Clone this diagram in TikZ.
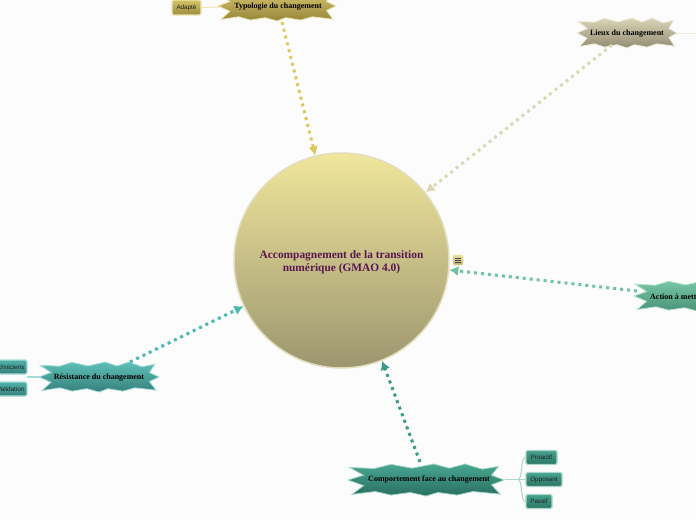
\documentclass[tikz,border=0pt]{standalone}
\usepackage{fontspec}
\setmainfont{Liberation Serif}
\newfontfamily\labelfont{Liberation Sans}
\usetikzlibrary{arrows.meta}
\definecolor{typoC}{HTML}{DCC85F}
\definecolor{typoT}{HTML}{D8C46E}
\definecolor{typoB}{HTML}{948539}
\definecolor{typoL}{HTML}{EFE6B4}
\definecolor{lieuC}{HTML}{DDD8B4}
\definecolor{lieuT}{HTML}{DAD5B8}
\definecolor{lieuB}{HTML}{928D72}
\definecolor{lieuL}{HTML}{EEEBD8}
\definecolor{actC}{HTML}{6FC2A2}
\definecolor{actT}{HTML}{76C6A6}
\definecolor{actB}{HTML}{4B9379}
\definecolor{actL}{HTML}{B5E0CF}
\definecolor{resC}{HTML}{47B9B0}
\definecolor{resT}{HTML}{5CC0B6}
\definecolor{resB}{HTML}{37807C}
\definecolor{resL}{HTML}{A5DDD8}
\definecolor{comC}{HTML}{3A9C88}
\definecolor{comT}{HTML}{47A791}
\definecolor{comB}{HTML}{2A6E60}
\definecolor{comL}{HTML}{A5D6C9}
\definecolor{ink}{HTML}{5A1650}
\definecolor{discT}{HTML}{F0E69C}
\definecolor{discB}{HTML}{9C9670}
\definecolor{discL}{HTML}{E2DEBC}
\definecolor{menuT}{HTML}{E8DDA0}
\definecolor{menuB}{HTML}{B5A86A}
\definecolor{adT}{HTML}{D6C463}
\definecolor{adB}{HTML}{9A8B3F}
\definecolor{tT}{HTML}{4FB0A8}
\definecolor{pT}{HTML}{46A38E}
\definecolor{pB}{HTML}{2D7565}
\tikzset{
  x=1pt,y=-1pt,
  link/.style={line width=3pt,dash pattern=on 3pt off 4pt,-{Latex[length=9pt,width=10pt]}},
  startitle/.style={font=\fontsize{8}{9}\selectfont\bfseries,text=black,inner sep=0pt},
  leaf/.style={font=\labelfont\fontsize{6.3}{7}\selectfont,text=black!88,inner sep=0pt,rounded corners=1.5pt,line width=1.2pt},
  branch/.style={line width=1pt},
}
\newcommand{\burst}[7]{%
  \begin{scope}[shift={(#1,#2)},xscale=#3,yscale=#4]
  \path[draw=#7,line width=.8pt,top color=#5,bottom color=#6]
   (-1,0)--(-.8,-.3)--(-.98,-.78)--(-.66,-.72)--(-.45,-.98)--(-.18,-.74)--(.1,-1)--(.3,-.74)--(.5,-1)--(.72,-.68)--(.93,-.85)--(.84,-.3)--(1,0)--(.84,.3)--(.95,.88)--(.6,.72)--(.4,.94)--(.15,.78)--(0,1)--(-.2,.78)--(-.45,.94)--(-.65,.72)--(-.95,.9)--(-.8,.35)--cycle;
  \end{scope}}
\begin{document}
\begin{tikzpicture}
\useasboundingbox (0,0) rectangle (696,520);
\clip (0,0) rectangle (696,520);
\fill[white!99!black] (0,0) rectangle (696,520);

% centre
\node[circle,minimum size=215pt,inner sep=0pt,draw=discL,line width=1.5pt,top color=discT,bottom color=discB,
  font=\fontsize{11.4}{12.5}\selectfont\bfseries,text=ink,align=center] (centre) at (341.5,260.5)
  {\rule{0pt}{11pt}Accompagnement de la transition\\numérique (GMAO 4.0)};
\node[draw=typoL,line width=.6pt,rounded corners=1pt,minimum width=10pt,minimum height=10pt,inner sep=0pt,top color=menuT,bottom color=menuB] (menu) at (458,260) {};
\draw[black!70,line width=.7pt] (455,258)--(461,258) (455,260.3)--(461,260.3) (455,262.6)--(461,262.6);

% bursts
\burst{277}{6}{59}{15}{typoT}{typoB}{typoL}
\burst{627}{33}{50}{15}{lieuT}{lieuB}{lieuL}
\burst{99}{377}{60}{15}{resT}{resB}{resL}
\burst{426}{480}{78}{16}{comT}{comB}{comL}
\burst{697}{296}{63}{15}{actT}{actB}{actL}

\node[startitle] (typo) at (278,7) {Typologie du changement};
\node[startitle] (lieu) at (627,34) {Lieux du changement};
\node[startitle] (res) at (99,378) {Résistance du changement};
\node[startitle] (com) at (429,480) {Comportement face au changement};
\node[startitle,anchor=west] (act) at (650,297) {Action à mettre};

\coordinate (typoOut) at (282,22);
\coordinate (lieuOut) at (612,45);
\coordinate (actOut) at (637,291);
\coordinate (comOut) at (420,462);
\coordinate (resOut) at (130,362);

% dotted arrows
\draw[link,typoC] (typoOut) -- (centre.104);
\draw[link,lieuC] (lieuOut) -- (centre.39);
\draw[link,actC] (actOut) -- (centre.355);
\draw[link,comC] (comOut) -- (centre.292);
\draw[link,resC] (resOut) -- (centre.205);

% leaves
\node[leaf,draw=typoL,top color=adT,bottom color=adB,minimum width=29pt,minimum height=15pt] (adapte) at (186.5,7.5) {Adapté};
\node[leaf,draw=resL,top color=tT,bottom color=resB,minimum width=40pt,minimum height=14pt,anchor=east] (tech) at (27.5,367) {};
\node[leaf,anchor=east] (techT) at (25,367.5) {Techniciens};
\node[leaf,draw=resL,top color=tT,bottom color=resB,minimum width=40pt,minimum height=14pt,anchor=east] (valid) at (27.5,389) {};
\node[leaf,anchor=east] (validT) at (25,389.5) {Validation};
\node[leaf,draw=comL,top color=pT,bottom color=pB,minimum width=31pt,minimum height=14pt] (proa) at (541.5,457.5) {Proactif};
\node[leaf,draw=comL,top color=pT,bottom color=pB,minimum width=36pt,minimum height=14pt] (oppo) at (544,479.5) {Opposant};
\node[leaf,draw=comL,top color=pT,bottom color=pB,minimum width=26pt,minimum height=14pt] (pass) at (539,501.5) {Passif};

\coordinate (typoIn) at (222,7);
\coordinate (lieuEnd) at (677,33);
\coordinate (lieuFree) at (696,33);
\coordinate (resIn) at (39,377);
\coordinate (resFork) at (27,377);
\coordinate (comIn) at (505,479.5);
\coordinate (comFork) at (518,479.5);

% branches
\draw[branch,typoL] (adapte.east) -- (typoIn);
\draw[branch,lieuL] (lieuEnd) -- (lieuFree);
\draw[branch,resL,line width=1.2pt] (resIn) -- (resFork);
\draw[branch,comL,line width=1.5pt] (comIn) -- (comFork);
\draw[branch,comL] (comFork) .. controls (523,479.5) and (520,457.5) .. (proa.west);
\draw[branch,comL] (comFork) -- (oppo.west);
\draw[branch,comL] (comFork) .. controls (523,479.5) and (520,501.5) .. (pass.west);
\end{tikzpicture}
\end{document}
